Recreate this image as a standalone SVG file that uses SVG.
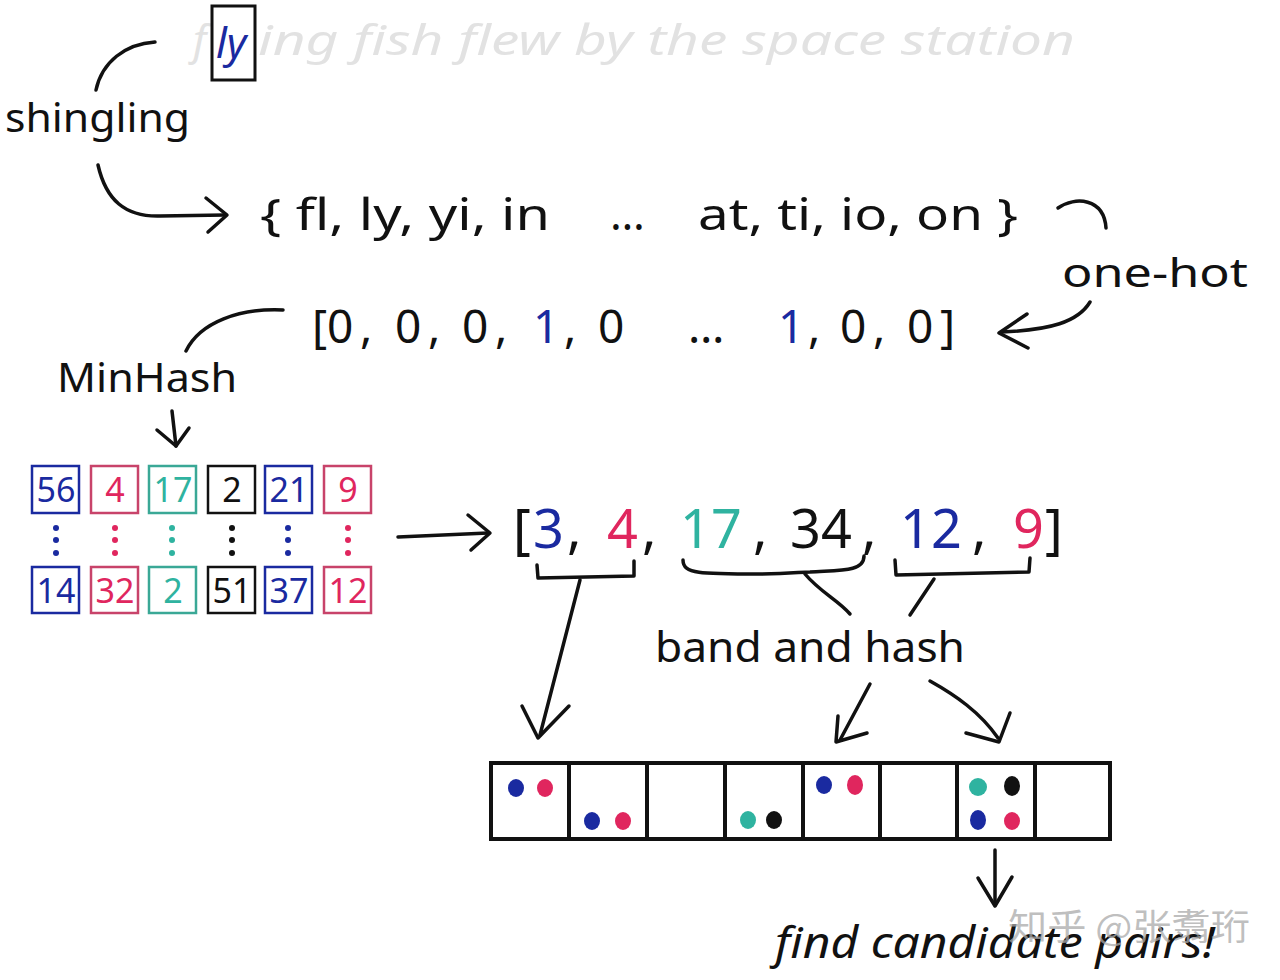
<svg xmlns="http://www.w3.org/2000/svg" width="1280" height="980" viewBox="0 0 1280 980">
<style>
  .t { font-family: "Noto Sans", "Open Sans", sans-serif; fill: #111; }
  .g { font-family: "Noto Sans", "Open Sans", sans-serif; fill: #e2e2e2; font-style: italic; font-size: 42px; }
  .ln { fill: none; stroke: #111; stroke-width: 3.5; stroke-linecap: round; stroke-linejoin: round; }
  .bl { fill: #1a2aa0; }
  .pk { fill: #e0265e; }
  .tl { fill: #2fb3a0; }
  .bk { fill: #111; }
  .box { fill: #fff; stroke-width: 2.5; }
  .num { font-family: "Noto Sans", sans-serif; font-size: 34px; text-anchor: middle; }
</style>
<rect width="1280" height="980" fill="#fff"/>

<g id="sentence">
  <text class="g" x="193" y="55">f</text>
  <text class="g" x="258" y="55" textLength="817" lengthAdjust="spacingAndGlyphs">ing fish flew by the space station</text>
  <rect x="212" y="6" width="43" height="74" fill="#fff" stroke="#111" stroke-width="3"/>
  <text class="t" x="216" y="58" font-size="42" font-style="italic" style="fill:#1a2aa0">ly</text>
</g>

<g id="shingling">
  <text class="t" x="5" y="132" font-size="40" textLength="185" lengthAdjust="spacingAndGlyphs">shingling</text>
</g>

<g id="shingles">
  <text class="t" x="260" y="230" font-size="44" textLength="290" lengthAdjust="spacingAndGlyphs">{ fl, ly, yi, in</text>
  <text class="t" x="610" y="230" font-size="44">…</text>
  <text class="t" x="698" y="230" font-size="44" textLength="320" lengthAdjust="spacingAndGlyphs">at, ti, io, on }</text>
</g>

<g id="onehot-label">
  <text class="t" x="1062" y="287" font-size="40" textLength="186" lengthAdjust="spacingAndGlyphs">one-hot</text>
</g>

<g id="vector">
  <text class="t" x="312" y="343" font-size="46"><tspan x="312">[</tspan><tspan x="327">0</tspan><tspan x="360">,</tspan><tspan x="395">0</tspan><tspan x="428">,</tspan><tspan x="462">0</tspan><tspan x="495">,</tspan><tspan x="533" style="fill:#1a2aa0">1</tspan><tspan x="564">,</tspan><tspan x="598">0</tspan><tspan x="688">…</tspan><tspan x="778" style="fill:#1a2aa0">1</tspan><tspan x="808">,</tspan><tspan x="840">0</tspan><tspan x="873">,</tspan><tspan x="907">0</tspan><tspan x="940">]</tspan></text>
</g>

<g id="minhash-label">
  <text class="t" x="57" y="392" font-size="40" textLength="180" lengthAdjust="spacingAndGlyphs">MinHash</text>
</g>

<g id="signature">
  <rect class="box" x="32" y="466" width="47" height="47" stroke="#1a2aa0"/>
  <rect class="box" x="91" y="466" width="47" height="47" stroke="#c8436a"/>
  <rect class="box" x="149" y="466" width="47" height="47" stroke="#3aa896"/>
  <rect class="box" x="208" y="466" width="47" height="47" stroke="#111"/>
  <rect class="box" x="265" y="466" width="47" height="47" stroke="#1a2aa0"/>
  <rect class="box" x="324" y="466" width="47" height="47" stroke="#c8436a"/>
  <text class="num bl" x="56" y="502">56</text>
  <text class="num pk" x="115" y="502">4</text>
  <text class="num tl" x="173" y="502">17</text>
  <text class="num bk" x="232" y="502">2</text>
  <text class="num bl" x="289" y="502">21</text>
  <text class="num pk" x="348" y="502">9</text>

  <g class="bl"><circle cx="56" cy="528" r="3"/><circle cx="56" cy="540" r="3"/><circle cx="56" cy="553" r="3"/></g>
  <g class="pk"><circle cx="115" cy="528" r="3"/><circle cx="115" cy="540" r="3"/><circle cx="115" cy="553" r="3"/></g>
  <g class="tl"><circle cx="172" cy="528" r="3"/><circle cx="172" cy="540" r="3"/><circle cx="172" cy="553" r="3"/></g>
  <g class="bk"><circle cx="232" cy="528" r="3"/><circle cx="232" cy="540" r="3"/><circle cx="232" cy="553" r="3"/></g>
  <g class="bl"><circle cx="288" cy="528" r="3"/><circle cx="288" cy="540" r="3"/><circle cx="288" cy="553" r="3"/></g>
  <g class="pk"><circle cx="348" cy="528" r="3"/><circle cx="348" cy="540" r="3"/><circle cx="348" cy="553" r="3"/></g>

  <rect class="box" x="32" y="567" width="47" height="46" stroke="#1a2aa0"/>
  <rect class="box" x="91" y="567" width="47" height="46" stroke="#c8436a"/>
  <rect class="box" x="149" y="567" width="47" height="46" stroke="#3aa896"/>
  <rect class="box" x="208" y="567" width="47" height="46" stroke="#111"/>
  <rect class="box" x="265" y="567" width="47" height="46" stroke="#1a2aa0"/>
  <rect class="box" x="324" y="567" width="47" height="46" stroke="#c8436a"/>
  <text class="num bl" x="56" y="603">14</text>
  <text class="num pk" x="115" y="603">32</text>
  <text class="num tl" x="173" y="603">2</text>
  <text class="num bk" x="232" y="603">51</text>
  <text class="num bl" x="289" y="603">37</text>
  <text class="num pk" x="348" y="603">12</text>
</g>

<g id="bands-vector">
  <text class="t" x="515" y="548" font-size="54"><tspan x="513">[</tspan><tspan x="533" style="fill:#1a2aa0">3</tspan><tspan x="567">,</tspan><tspan x="607" style="fill:#e0265e">4</tspan><tspan x="642">,</tspan><tspan x="680" style="fill:#2fb3a0">17</tspan><tspan x="753">,</tspan><tspan x="790">34</tspan><tspan x="862">,</tspan><tspan x="900" style="fill:#1a2aa0">12</tspan><tspan x="972">,</tspan><tspan x="1013" style="fill:#e0265e">9</tspan><tspan x="1045">]</tspan></text>
</g>

<g id="band-label">
  <text class="t" x="655" y="662" font-size="42" textLength="310" lengthAdjust="spacingAndGlyphs">band and hash</text>
</g>

<g id="buckets">
  <rect x="491" y="763" width="619" height="76" fill="#fff" stroke="#111" stroke-width="4"/>
  <g stroke="#111" stroke-width="4">
    <line x1="569" y1="763" x2="569" y2="840"/>
    <line x1="647" y1="763" x2="647" y2="840"/>
    <line x1="725" y1="763" x2="725" y2="840"/>
    <line x1="803" y1="763" x2="803" y2="840"/>
    <line x1="880" y1="763" x2="880" y2="840"/>
    <line x1="957" y1="763" x2="957" y2="840"/>
    <line x1="1035" y1="763" x2="1035" y2="840"/>
  </g>
  <ellipse class="bl" cx="516" cy="788" rx="8" ry="9"/>
  <ellipse class="pk" cx="545" cy="788" rx="8" ry="9"/>
  <ellipse class="bl" cx="592" cy="821" rx="8" ry="9"/>
  <ellipse class="pk" cx="623" cy="821" rx="8" ry="9"/>
  <ellipse class="tl" cx="748" cy="820" rx="8" ry="9"/>
  <ellipse class="bk" cx="774" cy="820" rx="8" ry="9"/>
  <ellipse class="bl" cx="824" cy="785" rx="8" ry="9"/>
  <ellipse class="pk" cx="855" cy="785" rx="8" ry="10"/>
  <ellipse class="tl" cx="978" cy="787" rx="9" ry="9"/>
  <ellipse class="bk" cx="1012" cy="786" rx="8" ry="10"/>
  <ellipse class="bl" cx="978" cy="820" rx="8" ry="10"/>
  <ellipse class="pk" cx="1012" cy="821" rx="8" ry="9"/>
</g>

<g id="result">
  <text class="t" x="775" y="958" font-size="44" font-style="italic" textLength="440" lengthAdjust="spacingAndGlyphs">find candidate pairs!</text>
</g>

<g id="watermark">
  <text x="1008" y="940" font-size="36" fill="#aaaaaa" fill-opacity="0.75" font-family="'Noto Sans CJK SC', sans-serif" textLength="242" lengthAdjust="spacingAndGlyphs">知乎 @张翥珩</text>
</g>

<g id="connectors">
  <path class="ln" d="M155,42 C125,44 102,62 96,90"/>
  <path class="ln" d="M98,165 C106,200 125,217 160,216 L225,215"/>
  <path class="ln" d="M206,198 L227,215 L208,232"/>
  <path class="ln" d="M1058,208 C1075,196 1104,198 1106,228"/>
  <path class="ln" d="M1090,302 C1078,322 1050,330 1002,332"/>
  <path class="ln" d="M1027,314 L999,333 L1028,348"/>
  <path class="ln" d="M283,310 C240,308 200,322 186,351"/>
  <path class="ln" d="M172,411 L176,446"/>
  <path class="ln" d="M157,430 L176,446 L189,428"/>
  <path class="ln" d="M398,537 L488,533"/>
  <path class="ln" d="M468,515 L490,533 L471,550"/>
  <path class="ln" d="M537,565 L538,578 L634,576 L634,561"/>
  <path class="ln" d="M683,560 C683,574 700,574 760,574 C790,574 800,572 810,572 C840,570 864,572 864,556"/>
  <path class="ln" d="M895,560 L896,575 L1029,572 L1030,558"/>
  <path class="ln" d="M580,580 L540,735"/>
  <path class="ln" d="M522,706 L538,738 L569,706"/>
  <path class="ln" d="M805,574 C820,592 838,600 850,614"/>
  <path class="ln" d="M934,579 L910,615"/>
  <path class="ln" d="M870,684 L840,740"/>
  <path class="ln" d="M838,716 L836,742 L867,733"/>
  <path class="ln" d="M930,681 C955,695 980,712 998,738"/>
  <path class="ln" d="M966,733 L999,742 L1010,713"/>
  <path class="ln" d="M995,850 L995,905"/>
  <path class="ln" d="M978,878 L995,906 L1012,877"/>
</g>
</svg>
